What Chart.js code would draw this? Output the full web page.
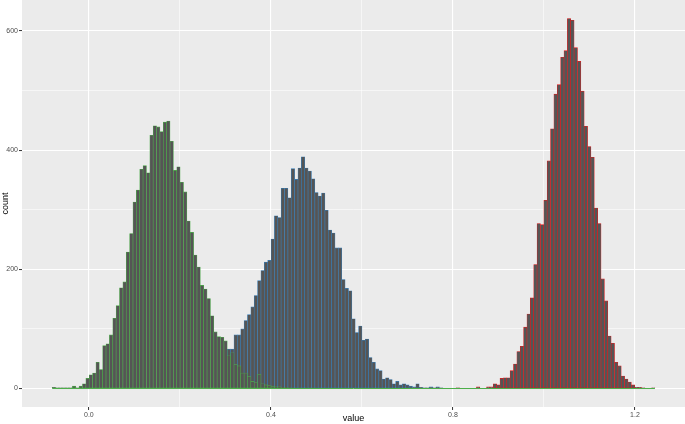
<!DOCTYPE html>
<html>
<head>
<meta charset="UTF-8" />
<title>Histogram</title>
<script src="https://cdn.jsdelivr.net/npm/chart.js"></script>
<style>
  html, body { margin: 0; padding: 0; background: #fff; }
  canvas { display: block; }
</style>
</head>
<body>
<canvas id="hist" width="685" height="424"></canvas>
<script>
// histogram bins (same bins for all three groups)
const binStart = -0.0807;
const binWidth = 0.0074;

// counts per bin, each group starts at its own first bin
const greenFirstBin = 0;
const greenCounts = [
  2, 1, 1, 1, 1, 1, 4, 1, 4, 8,
  17, 23, 26, 44, 32, 72, 75, 90, 118, 139,
  169, 179, 229, 260, 313, 333, 368, 374, 362, 425,
  441, 439, 431, 447, 449, 415, 366, 372, 346, 330,
  281, 262, 224, 204, 173, 167, 151, 122, 95, 87,
  86, 80, 55, 60, 40, 38, 26, 26, 20, 12,
  10, 24, 8, 6, 5, 4, 3, 3, 2, 2,
  1, 1, 0, 1, 0, 1, 0, 1
];

const blueFirstBin = 52;
const blueCounts = [
  66, 66, 90, 90, 100, 114, 124, 137, 156, 181,
  198, 212, 215, 251, 290, 287, 336, 336, 320, 369,
  351, 370, 389, 370, 365, 352, 329, 323, 328, 299,
  266, 261, 236, 236, 183, 168, 164, 117, 94, 105,
  81, 83, 52, 44, 33, 30, 16, 18, 15, 8,
  12, 6, 8, 6, 4, 3, 8, 2, 1, 1,
  3, 1, 3, 1
];

const redFirstBin = 120;
const redCounts = [
  1, 0, 0, 0, 0, 0, 3, 0, 0, 3,
  3, 8, 6, 17, 18, 18, 30, 41, 62, 71,
  103, 125, 152, 208, 277, 275, 316, 382, 436, 494,
  510, 556, 567, 621, 618, 572, 549, 499, 440, 406,
  388, 303, 277, 184, 147, 88, 76, 44, 38, 21,
  16, 11, 6, 2, 2, 1, 0, 0, 1
];

const xMajorTicks = [0, 0.4, 0.8, 1.2];
const xMinorTicks = [0.2, 0.6, 1.0];
const yMajorTicks = [0, 200, 400, 600];
const yMinorTicks = [100, 300, 500];

const barFill = '#555555';
const green = '#4DAF4A';
const blue = '#377EB8';
const red = '#E41A1C';
const fontFamily = "'Liberation Sans', Arial, sans-serif";

function toPoints(firstBin, counts) {
  return counts.map((c, k) => ({ x: binStart + binWidth * (firstBin + k + 0.5), y: c }));
}

// zero-height bars still get an outline in the original, seen as a line on the baseline
const lastEdge = binStart + binWidth * (redFirstBin + redCounts.length);
const baseline = [{ x: binStart, y: 0 }, { x: lastEdge, y: 0 }];

const panelBg = {
  id: 'panelBg',
  beforeDraw(chart) {
    const { ctx, chartArea: a } = chart;
    ctx.save();
    ctx.fillStyle = '#EBEBEB';
    ctx.fillRect(a.left, a.top, a.width, a.height);
    ctx.restore();
  }
};

function axisOptions(majors, minors, fmt, title) {
  return {
    type: 'linear',
    offset: false,
    afterBuildTicks: s => { s.ticks = majors.concat(minors).sort((a, b) => a - b).map(v => ({ value: v })); },
    ticks: {
      autoSkip: false,
      maxRotation: 0,
      padding: 1,
      color: '#4D4D4D',
      font: { family: fontFamily, size: 7 },
      callback: v => majors.includes(v) ? fmt(v) : ''
    },
    grid: {
      offset: false,
      color: '#FFFFFF',
      lineWidth: c => majors.includes(c.tick.value) ? 1.1 : 0.55,
      tickLength: 3,
      tickWidth: 1,
      tickColor: c => majors.includes(c.tick.value) ? '#333333' : 'rgba(0,0,0,0)'
    },
    border: { display: false },
    title: { display: true, text: title, color: '#000000', padding: 0, font: { family: fontFamily, size: 9 } }
  };
}

const xAxis = axisOptions(xMajorTicks, xMinorTicks, v => v.toFixed(1), 'value');
xAxis.min = -0.147;
xAxis.max = 1.31;
xAxis.afterFit = s => { s.height = 17; s.paddingLeft = 0; s.paddingRight = 0; };

const yAxis = axisOptions(yMajorTicks, yMinorTicks, v => String(v), 'count');
yAxis.min = -31;
yAxis.max = 652;
yAxis.afterFit = s => { s.width = 22; s.paddingTop = 0; s.paddingBottom = 0; };

new Chart(document.getElementById('hist'), {
  type: 'bar',
  data: {
    datasets: [
      { type: 'line', data: baseline, borderColor: green, borderWidth: 1, pointRadius: 0, order: 0 },
      { label: 'green', data: toPoints(greenFirstBin, greenCounts), backgroundColor: barFill, borderColor: green, order: 1 },
      { label: 'blue', data: toPoints(blueFirstBin, blueCounts), backgroundColor: barFill, borderColor: blue, order: 2 },
      { label: 'red', data: toPoints(redFirstBin, redCounts), backgroundColor: barFill, borderColor: red, order: 3 }
    ]
  },
  options: {
    responsive: false,
    animation: false,
    layout: { padding: 0 },
    datasets: {
      bar: { barPercentage: 1, categoryPercentage: 1, grouped: false, borderWidth: 0.6, borderSkipped: false }
    },
    plugins: { legend: { display: false }, tooltip: { enabled: false } },
    scales: { x: xAxis, y: yAxis }
  },
  plugins: [panelBg]
});
</script>
</body>
</html>
